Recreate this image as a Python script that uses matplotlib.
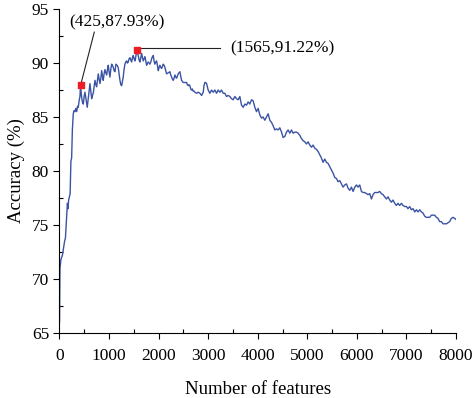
# Accuracy vs number of features
import matplotlib
matplotlib.use('Agg')
import matplotlib.pyplot as plt
from matplotlib.ticker import MultipleLocator

features = [1, 5, 10, 30, 60, 100, 120, 140, 160, 170, 185, 200, 215, 230, 245, 260,
            278, 295, 312, 330, 347, 365, 379, 396, 413, 425, 445, 462, 480, 497, 514,
            537, 560, 587, 615, 632, 649, 665, 681, 699, 716, 733, 750, 766, 782, 800,
            817, 834, 851, 867, 883, 900, 917, 935, 952, 968, 984, 1001, 1018, 1035,
            1052, 1068, 1085, 1102, 1119, 1139, 1162, 1185, 1203, 1220, 1237, 1254,
            1270, 1286, 1303, 1320, 1337, 1355, 1371, 1387, 1404, 1421, 1438, 1456,
            1472, 1488, 1505, 1522, 1540, 1556, 1565, 1589, 1606, 1623, 1640, 1657,
            1674, 1690, 1707, 1724, 1741, 1758, 1775, 1791, 1808, 1825, 1842, 1859,
            1876, 1892, 1908, 1925, 1942, 1959, 1976, 1993, 2010, 2026, 2043, 2060,
            2077, 2093, 2110, 2127, 2144, 2161, 2195, 2228, 2245, 2262, 2280, 2295,
            2312, 2329, 2346, 2363, 2380, 2395, 2412, 2429, 2446, 2463, 2480, 2496,
            2530, 2564, 2580, 2597, 2614, 2631, 2648, 2665, 2681, 2697, 2715, 2732,
            2766, 2800, 2832, 2867, 2900, 2915, 2933, 2950, 2968, 2985, 3000, 3034,
            3068, 3101, 3135, 3169, 3202, 3236, 3269, 3303, 3337, 3370, 3404, 3437,
            3471, 3504, 3538, 3572, 3605, 3639, 3656, 3673, 3706, 3740, 3774, 3806,
            3840, 3875, 3908, 3941, 3975, 4008, 4042, 4076, 4109, 4143, 4177, 4210,
            4244, 4278, 4310, 4345, 4379, 4411, 4445, 4480, 4512, 4546, 4580, 4613,
            4647, 4681, 4714, 4748, 4782, 4815, 4849, 4882, 4916, 4949, 4983, 5017,
            5050, 5084, 5117, 5151, 5185, 5218, 5252, 5285, 5319, 5352, 5386, 5419,
            5453, 5487, 5520, 5554, 5588, 5621, 5655, 5689, 5722, 5756, 5790, 5823,
            5857, 5890, 5924, 5958, 5992, 6024, 6058, 6092, 6125, 6159, 6193, 6226,
            6260, 6294, 6326, 6360, 6394, 6427, 6461, 6494, 6528, 6562, 6596, 6629,
            6663, 6697, 6729, 6764, 6798, 6830, 6864, 6899, 6931, 6965, 7000, 7032,
            7066, 7100, 7133, 7167, 7201, 7234, 7268, 7302, 7334, 7369, 7403, 7435,
            7470, 7504, 7536, 7570, 7604, 7637, 7671, 7705, 7738, 7806, 7840, 7873,
            7906, 7940, 7974, 8000]

accuracy = [66.0, 68.5, 71.0, 71.8, 72.2, 73.4, 73.8, 75.4, 77.0, 76.5, 77.3, 77.6, 77.9,
            80.9, 81.2, 83.8, 85.3, 85.6, 85.5, 85.8, 85.5, 86.0, 85.9, 86.5, 86.9, 87.93,
            86.9, 86.4, 86.2, 86.9, 87.3, 86.6, 85.9, 87.0, 88.1, 87.4, 86.7, 87.0, 87.2,
            87.8, 88.4, 88.0, 87.8, 88.4, 89.0, 88.5, 88.1, 88.6, 89.3, 88.8, 88.4, 89.0,
            89.4, 89.1, 88.9, 89.4, 89.8, 89.2, 88.7, 89.4, 89.9, 89.8, 89.6, 89.3, 89.2,
            89.9, 89.8, 89.6, 89.0, 88.4, 88.0, 87.9, 88.3, 88.7, 89.4, 89.9, 90.1, 90.2,
            90.0, 90.1, 90.4, 90.5, 90.3, 90.1, 90.5, 90.7, 90.4, 90.2, 90.6, 91.1, 91.22,
            90.7, 90.3, 90.1, 90.5, 90.9, 90.5, 90.2, 90.4, 90.6, 90.2, 89.8, 90.0, 90.1,
            90.0, 89.9, 90.1, 90.4, 90.6, 90.7, 90.2, 89.9, 90.1, 90.2, 89.8, 89.3, 89.6,
            89.8, 89.6, 89.5, 89.7, 89.9, 89.8, 89.6, 89.3, 89.0, 89.1, 89.2, 88.9, 88.7,
            88.5, 88.4, 88.6, 88.9, 88.7, 88.6, 88.8, 89.0, 89.1, 89.2, 88.8, 88.4, 88.3,
            88.2, 88.2, 88.2, 88.0, 87.9, 88.0, 87.9, 87.6, 87.5, 87.6, 87.4, 87.4, 87.3,
            87.2, 87.3, 87.2, 87.0, 87.3, 87.9, 88.2, 88.2, 88.1, 87.8, 87.5, 87.2, 87.5,
            87.3, 87.5, 87.2, 87.5, 87.3, 87.5, 87.2, 87.2, 86.9, 87.0, 86.9, 86.7, 86.6,
            86.9, 86.7, 86.6, 86.9, 86.5, 86.1, 85.9, 86.2, 86.1, 86.4, 86.2, 86.6, 86.5,
            85.9, 85.5, 85.8, 85.2, 84.9, 85.0, 84.7, 85.0, 85.3, 84.7, 84.5, 84.2, 83.8,
            83.9, 83.8, 84.0, 83.6, 83.1, 83.2, 83.6, 83.8, 83.5, 83.8, 83.5, 83.6, 83.6,
            83.5, 83.3, 83.0, 82.8, 82.7, 82.5, 82.7, 82.4, 82.2, 82.4, 82.1, 82.0, 81.8,
            81.5, 81.2, 80.8, 81.1, 80.8, 80.7, 80.4, 80.1, 79.8, 79.4, 79.3, 79.0, 79.1,
            78.8, 78.5, 78.7, 78.8, 78.4, 78.2, 78.5, 78.1, 78.5, 78.7, 78.5, 78.7, 78.1,
            78.0, 78.0, 77.9, 77.8, 77.9, 77.4, 77.8, 78.0, 78.0, 78.0, 78.1, 77.9, 77.8,
            77.6, 77.4, 77.6, 77.3, 77.1, 77.3, 77.0, 76.8, 77.0, 76.8, 77.0, 76.8, 76.7,
            76.7, 76.5, 76.7, 76.4, 76.5, 76.2, 76.4, 76.2, 76.4, 76.2, 76.1, 75.8, 75.7,
            75.7, 75.7, 75.9, 75.9, 75.9, 75.7, 75.6, 75.3, 75.3, 75.1, 75.1, 75.2, 75.3,
            75.6, 75.7, 75.6, 75.5]

marked_x = [425, 1565]
marked_y = [87.93, 91.22]
marked_labels = ['(425,87.93%)', '(1565,91.22%)']

plt.rcParams['font.family'] = 'Liberation Serif'

fig = plt.figure(figsize=(4.74, 3.98), dpi=100)
ax = fig.add_axes([0.1255, 0.164, 0.8365, 0.813])

ax.plot(features, accuracy, color='#3b53a4', linewidth=1.0)
ax.plot(marked_x, marked_y, 's', color='#ee1c25', markersize=5, zorder=3)

# leader lines + labels
ax.plot([marked_x[0], 702], [marked_y[0], 92.87], color='#222222', linewidth=0.8)
ax.text(1169, 93.75, marked_labels[0], ha='center', va='center', fontsize=12.5)
ax.plot([marked_x[1], 3236], [91.42, 91.42], color='#222222', linewidth=0.8)
ax.text(3438, 91.36, marked_labels[1], ha='left', va='center', fontsize=12.5)

ax.set_xlim(0, 8000)
ax.set_ylim(65, 95)
ax.xaxis.set_major_locator(MultipleLocator(1000))
ax.xaxis.set_minor_locator(MultipleLocator(500))
ax.yaxis.set_major_locator(MultipleLocator(5))
ax.yaxis.set_minor_locator(MultipleLocator(2.5))
ax.tick_params(which='major', direction='out', length=4.5, width=0.8, labelsize=12.5, pad=3)
ax.tick_params(axis='x', which='major', pad=6.5)
ax.tick_params(which='minor', direction='in', length=3, width=0.8)

for side in ['top', 'right']:
    ax.spines[side].set_visible(False)
for side in ['left', 'bottom']:
    ax.spines[side].set_linewidth(0.8)

ax.set_xlabel('Number of features', fontsize=13.5, labelpad=12)
ax.set_ylabel('Accuracy (%)', fontsize=13.5, labelpad=5)

fig.savefig('out.png', dpi=100)
